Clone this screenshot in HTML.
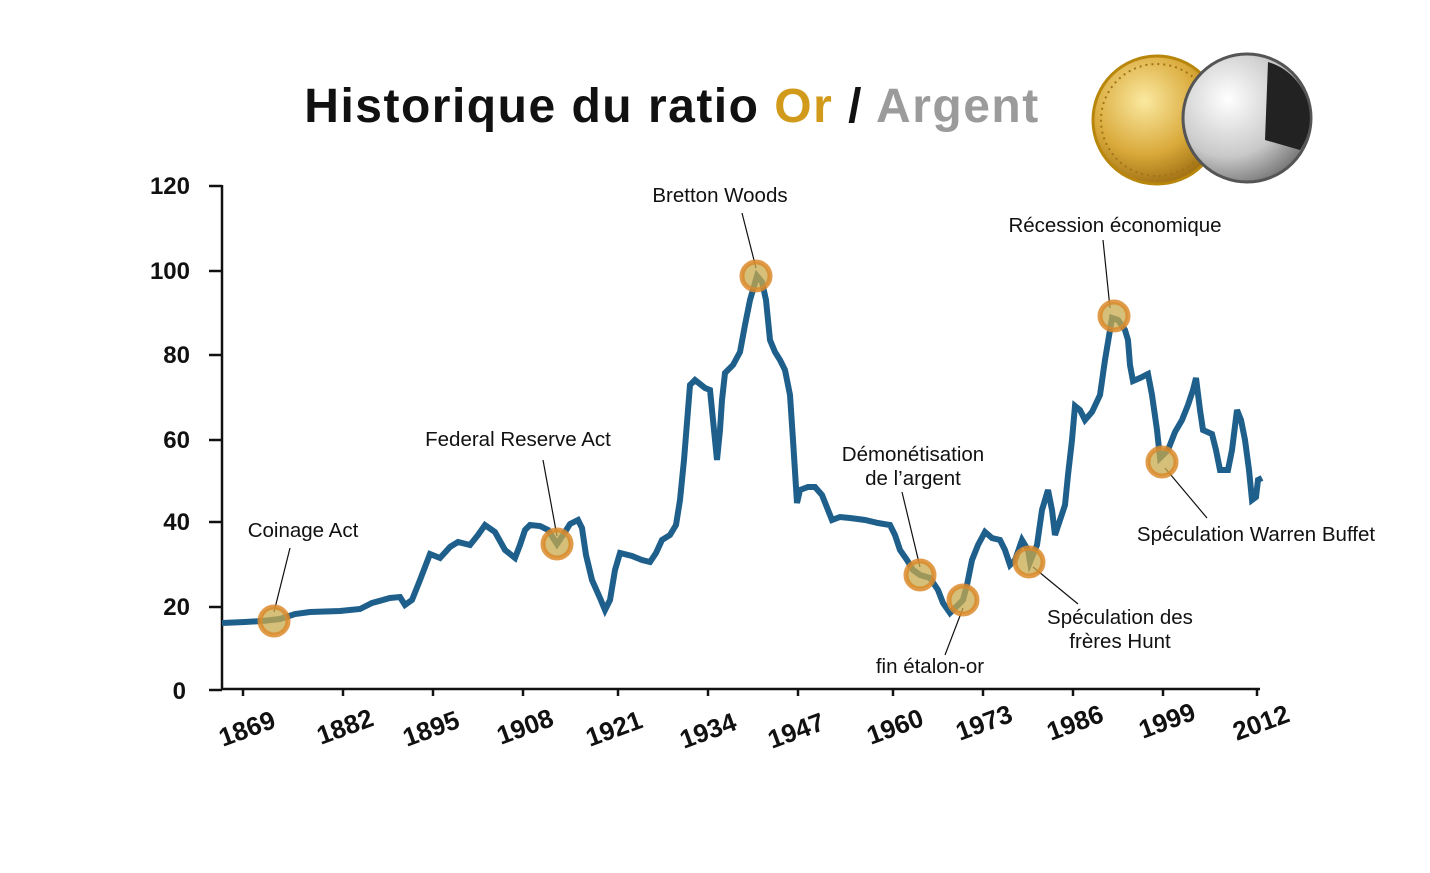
<!DOCTYPE html>
<html><head><meta charset="utf-8"><style>
body{margin:0;background:#fff;width:1430px;height:873px;overflow:hidden}
svg{display:block}
text{font-family:"Liberation Sans",sans-serif}
</style></head><body>
<svg width="1430" height="873" viewBox="0 0 1430 873" xmlns="http://www.w3.org/2000/svg">
<defs>
<radialGradient id="g1" cx="40%" cy="35%" r="70%"><stop offset="0" stop-color="#fbe9a0"/><stop offset="0.6" stop-color="#d9a93a"/><stop offset="1" stop-color="#9a6a10"/></radialGradient>
<radialGradient id="g2" cx="35%" cy="35%" r="75%"><stop offset="0" stop-color="#ffffff"/><stop offset="0.6" stop-color="#c9c9c9"/><stop offset="1" stop-color="#6a6a6a"/></radialGradient>
</defs>
<text x="672" y="122" text-anchor="middle" font-size="48" font-weight="bold" letter-spacing="1.5" fill="#111">Historique du ratio <tspan fill="#d19a1a">Or</tspan> / <tspan fill="#9b9b9b">Argent</tspan></text>
<circle cx="1157" cy="120" r="64" fill="url(#g1)" stroke="#b8860b" stroke-width="3"/>
<circle cx="1157" cy="120" r="56" fill="none" stroke="#a07418" stroke-width="2" stroke-dasharray="2 4"/>
<circle cx="1247" cy="118" r="64" fill="url(#g2)" stroke="#555" stroke-width="3"/>
<path d="M1268,62 A58,58 0 0 1 1300,150 L1265,140 Z" fill="#222"/>
<g stroke="#111" stroke-width="2.5" fill="none">
<line x1="222" y1="185" x2="222" y2="689"/>
<line x1="222" y1="689" x2="1260" y2="689"/>
<line x1="209" y1="186" x2="222" y2="186"/><line x1="209" y1="271" x2="222" y2="271"/>
<line x1="209" y1="355" x2="222" y2="355"/><line x1="209" y1="440" x2="222" y2="440"/>
<line x1="209" y1="522" x2="222" y2="522"/><line x1="209" y1="607" x2="222" y2="607"/>
<line x1="209" y1="690" x2="222" y2="690"/>
<line x1="243" y1="689" x2="243" y2="696"/><line x1="343" y1="689" x2="343" y2="696"/>
<line x1="433" y1="689" x2="433" y2="696"/><line x1="523" y1="689" x2="523" y2="696"/>
<line x1="618" y1="689" x2="618" y2="696"/><line x1="708" y1="689" x2="708" y2="696"/>
<line x1="798" y1="689" x2="798" y2="696"/><line x1="893" y1="689" x2="893" y2="696"/>
<line x1="983" y1="689" x2="983" y2="696"/><line x1="1073" y1="689" x2="1073" y2="696"/>
<line x1="1163" y1="689" x2="1163" y2="696"/><line x1="1257" y1="689" x2="1257" y2="696"/>
</g>
<g font-size="24" font-weight="bold" fill="#111" text-anchor="end">
<text x="190" y="194">120</text><text x="190" y="279">100</text><text x="190" y="363">80</text>
<text x="190" y="448">60</text><text x="190" y="530">40</text><text x="190" y="615">20</text><text x="186" y="699">0</text>
</g>
<g font-size="26" font-weight="bold" fill="#111" text-anchor="middle">
<text transform="translate(250,737) rotate(-20)">1869</text>
<text transform="translate(348,735) rotate(-20)">1882</text>
<text transform="translate(434,737) rotate(-20)">1895</text>
<text transform="translate(528,735) rotate(-20)">1908</text>
<text transform="translate(617,737) rotate(-20)">1921</text>
<text transform="translate(711,739) rotate(-20)">1934</text>
<text transform="translate(799,739) rotate(-20)">1947</text>
<text transform="translate(898,735) rotate(-20)">1960</text>
<text transform="translate(987,731) rotate(-20)">1973</text>
<text transform="translate(1078,731) rotate(-20)">1986</text>
<text transform="translate(1170,729) rotate(-20)">1999</text>
<text transform="translate(1264,731) rotate(-20)">2012</text>
</g>
<polyline fill="none" stroke="#1f5f8b" stroke-width="6" stroke-linejoin="miter" points="222,623 245,622 262,621 280,619 295,614 310,612 340,611 360,609 372,603 390,598 400,597 405,605 412,600 420,580 430,554 440,558 450,547 458,542 470,545 478,535 485,525 495,532 505,550 515,558 520,545 525,530 530,525 540,526 548,530 557,544 565,532 570,524 578,520 582,528 586,555 592,580 600,598 605,610 610,600 615,570 620,553 632,556 642,560 650,562 656,553 662,540 670,535 676,525 680,500 684,460 688,410 690,385 695,380 700,384 705,388 710,390 713,420 717,460 720,430 722,400 725,373 733,365 740,352 745,325 750,300 757,276 762,282 766,300 770,340 775,352 780,360 785,370 790,395 793,440 797,503 800,490 808,487 815,487 822,495 828,510 832,520 840,517 850,518 865,520 878,523 890,525 895,535 900,550 907,560 913,570 920,575 930,578 938,590 943,603 950,613 963,600 967,585 972,560 978,545 985,532 992,538 1000,540 1005,550 1010,565 1015,560 1022,540 1028,550 1030,562 1037,545 1042,510 1048,490 1052,510 1055,535 1060,520 1065,505 1068,475 1072,440 1075,406 1080,410 1085,420 1092,412 1100,395 1105,360 1110,330 1112,318 1118,320 1125,330 1128,340 1130,365 1133,381 1140,378 1148,374 1152,395 1157,430 1160,458 1168,450 1175,432 1182,420 1188,405 1193,390 1196,378 1200,410 1203,430 1212,434 1216,450 1220,470 1228,470 1232,450 1237,410 1241,420 1245,440 1249,470 1252,500 1256,497 1258,480 1262,478"/>
<g stroke="#111" stroke-width="1.2">
<line x1="290" y1="548" x2="274" y2="612"/>
<line x1="543" y1="460" x2="557" y2="536"/>
<line x1="742" y1="213" x2="756" y2="268"/>
<line x1="902" y1="492" x2="920" y2="567"/>
<line x1="945" y1="655" x2="963" y2="608"/>
<line x1="1078" y1="604" x2="1033" y2="567"/>
<line x1="1103" y1="240" x2="1110" y2="308"/>
<line x1="1207" y1="518" x2="1165" y2="468"/>
</g>
<g fill="#c8a94c" fill-opacity="0.75" stroke="#db8a2c" stroke-width="5" stroke-opacity="0.85">
<circle cx="274" cy="621" r="14"/><circle cx="557" cy="544" r="14"/><circle cx="756" cy="276" r="14"/>
<circle cx="920" cy="575" r="14"/><circle cx="963" cy="600" r="14"/><circle cx="1029" cy="562" r="14"/>
<circle cx="1114" cy="316" r="14"/><circle cx="1162" cy="462" r="14"/>
</g>
<g font-size="20.5" fill="#111" text-anchor="middle">
<text x="303" y="537">Coinage Act</text>
<text x="518" y="446">Federal Reserve Act</text>
<text x="720" y="202">Bretton Woods</text>
<text x="913" y="461">Démonétisation</text>
<text x="913" y="485">de l’argent</text>
<text x="930" y="673">fin étalon-or</text>
<text x="1120" y="624">Spéculation des</text>
<text x="1120" y="648">frères Hunt</text>
<text x="1115" y="232">Récession économique</text>
<text x="1256" y="541">Spéculation Warren Buffet</text>
</g>
</svg>
</body></html>
